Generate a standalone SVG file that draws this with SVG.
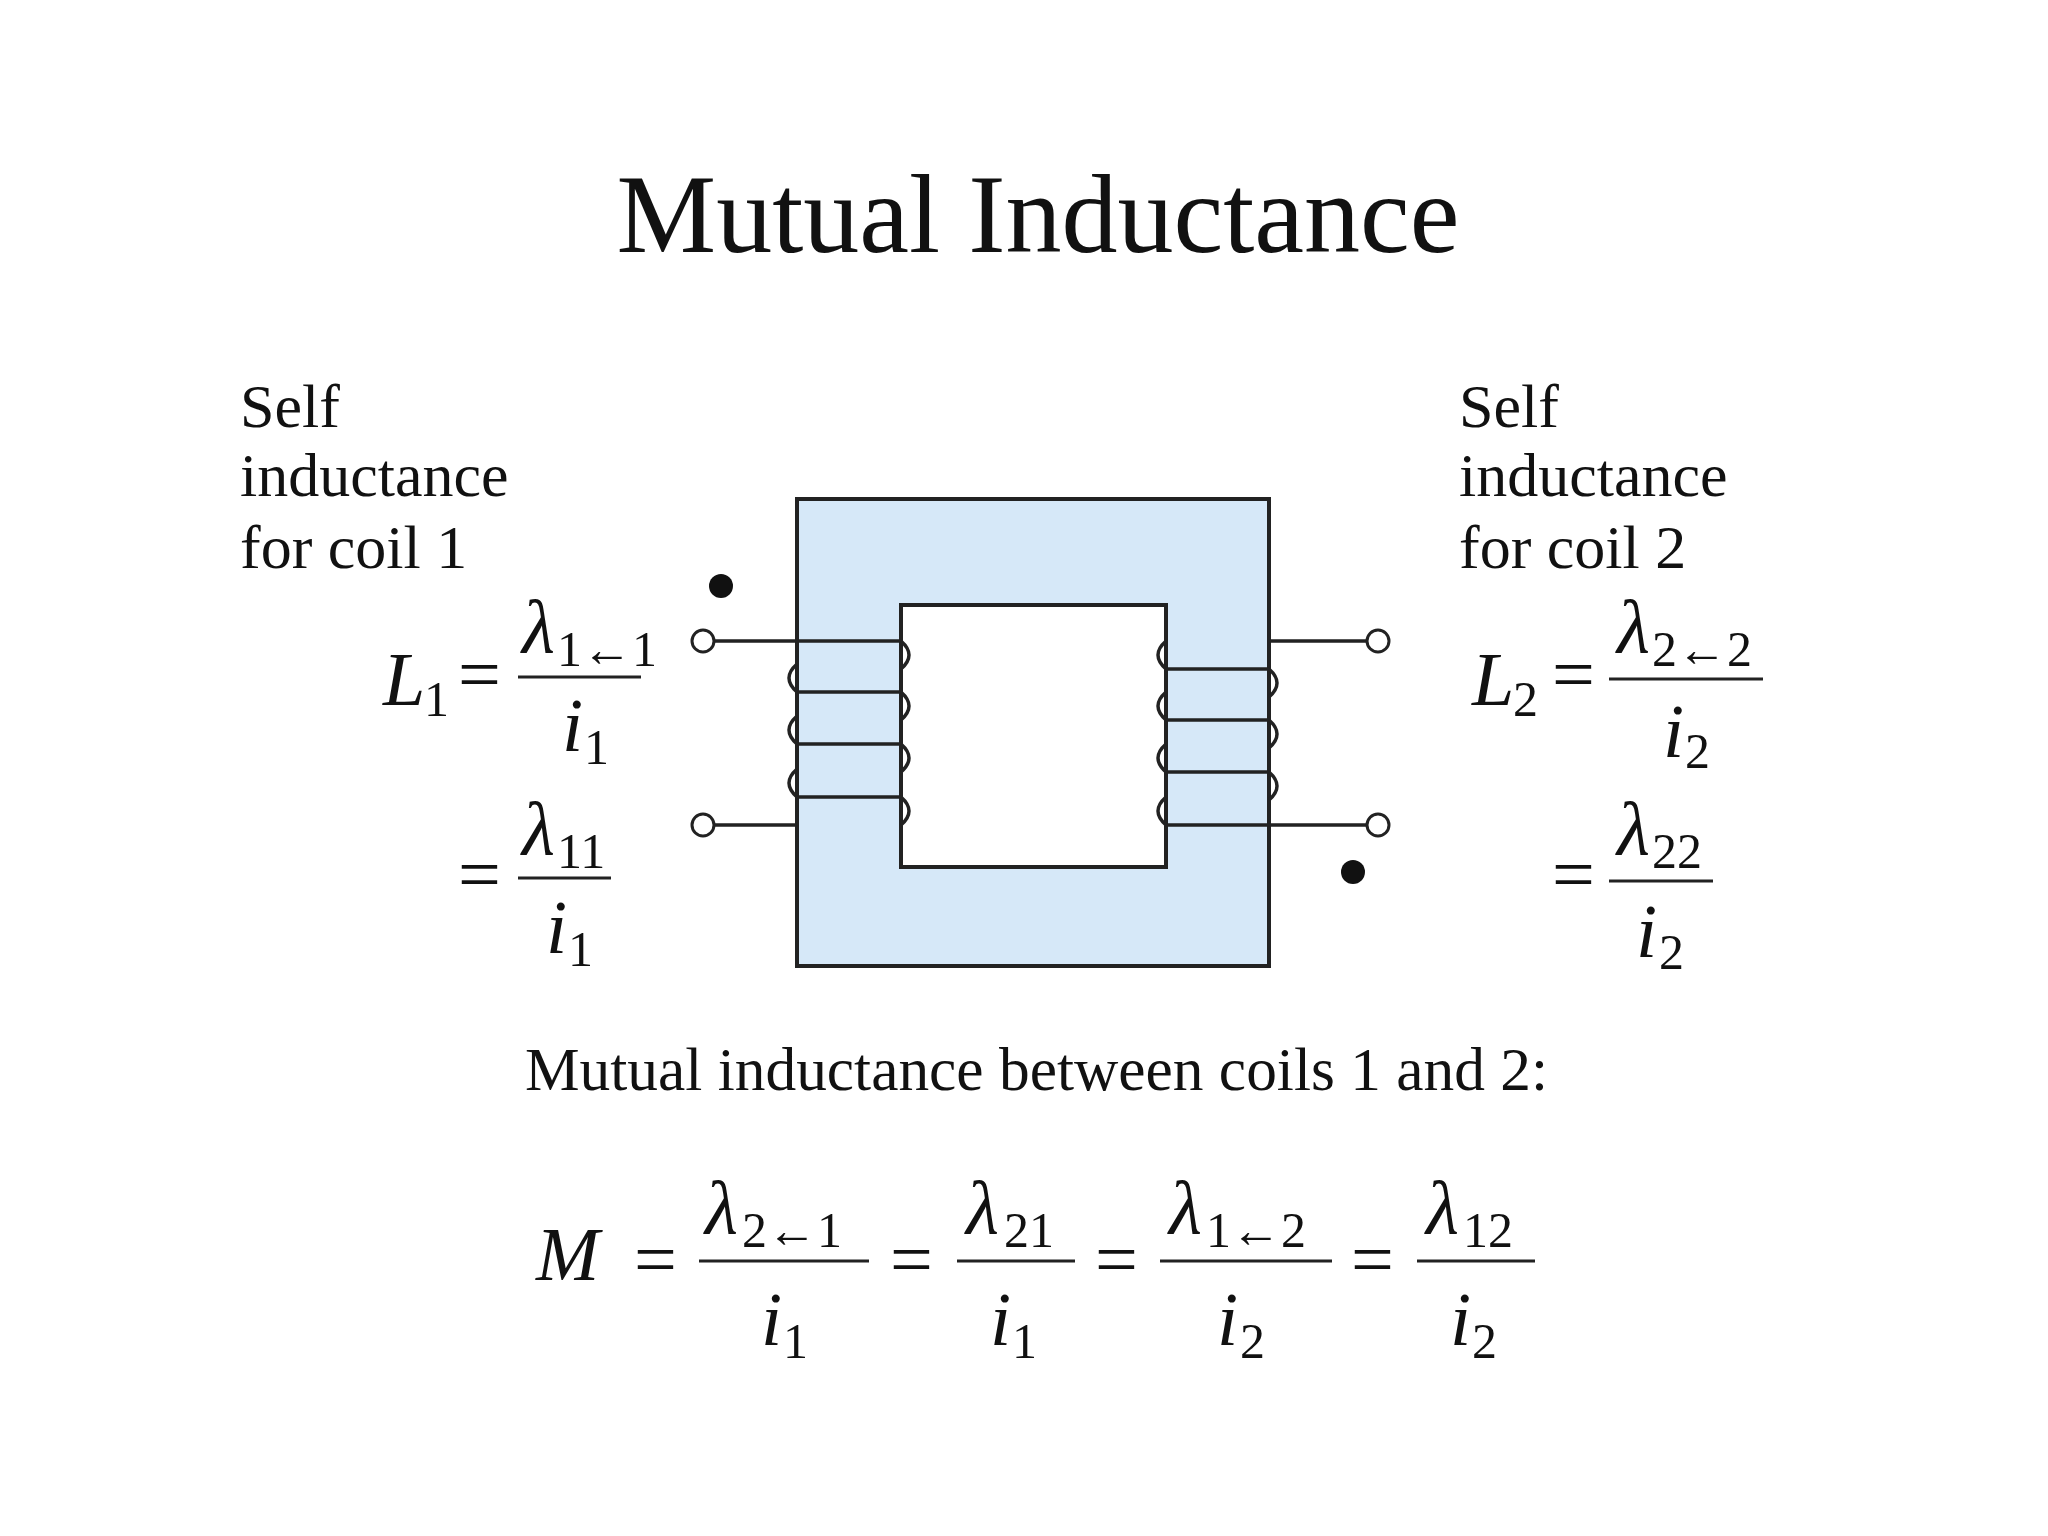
<svg xmlns="http://www.w3.org/2000/svg" width="2048" height="1536" viewBox="0 0 2048 1536">
<style>
text{font-family:"Liberation Serif","DejaVu Serif",serif;fill:#111}
.t{font-size:62px}
.m{font-size:76px;font-style:italic}
.s{font-size:50px}
.e{font-size:76px}
.w{stroke:#222;stroke-width:3.5;fill:none}
.fl{stroke:#222;stroke-width:3}
</style>
<rect width="2048" height="1536" fill="#fff"/>
<text x="1038" y="252" font-size="112" text-anchor="middle">Mutual Inductance</text>
<g id="label-left">
<text class="t" x="240" y="427">Self</text>
<text class="t" x="240" y="496">inductance</text>
<text class="t" x="240" y="568">for coil 1</text>
</g>
<g id="label-right">
<text class="t" x="1459" y="427">Self</text>
<text class="t" x="1459" y="496">inductance</text>
<text class="t" x="1459" y="568">for coil 2</text>
</g>
<g id="core">
<rect x="797" y="499" width="472" height="467" fill="#d6e8f8" stroke="#222" stroke-width="4"/>
<rect x="901" y="605" width="265" height="262" fill="#fff" stroke="#222" stroke-width="4"/>
</g>
<g id="coil1">
<path class="w" d="M714 641H901M797 692H901M797 744H901M797 797H901M714 825H797"/>
<path class="w" d="M901 641q16 14 0 28M901 692q16 14 0 28M901 744q16 14 0 28M901 797q16 14 0 28"/>
<path class="w" d="M797 664q-16 14 0 28M797 716q-16 14 0 28M797 769q-16 14 0 28"/>
<circle cx="703" cy="641" r="11" fill="#fff" stroke="#222" stroke-width="3"/>
<circle cx="703" cy="825" r="11" fill="#fff" stroke="#222" stroke-width="3"/>
<circle cx="721" cy="586" r="12" fill="#111"/>
</g>
<g id="coil2">
<path class="w" d="M1269 641H1367M1166 669H1269M1166 720H1269M1166 772H1269M1166 825H1367"/>
<path class="w" d="M1166 641q-16 14 0 28M1166 692q-16 14 0 28M1166 744q-16 14 0 28M1166 797q-16 14 0 28"/>
<path class="w" d="M1269 669q16 14 0 28M1269 720q16 14 0 28M1269 772q16 14 0 28"/>
<circle cx="1378" cy="641" r="11" fill="#fff" stroke="#222" stroke-width="3"/>
<circle cx="1378" cy="825" r="11" fill="#fff" stroke="#222" stroke-width="3"/>
<circle cx="1353" cy="872" r="12" fill="#111"/>
</g>
<g id="eq-L1">
<text class="m" x="383" y="705">L</text><text class="s" x="424" y="716">1</text>
<text class="e" x="458" y="700">=</text>
<line class="fl" x1="518" y1="677" x2="641" y2="677"/>
<text class="m" x="522" y="653">λ</text><text class="s" x="557" y="666">1←1</text>
<text class="m" x="562" y="751">i</text><text class="s" x="584" y="764">1</text>
<text class="e" x="458" y="900">=</text>
<line class="fl" x1="518" y1="878" x2="611" y2="878"/>
<text class="m" x="522" y="855">λ</text><text class="s" x="557" y="868">11</text>
<text class="m" x="546" y="953">i</text><text class="s" x="568" y="966">1</text>
</g>
<g id="eq-L2">
<text class="m" x="1472" y="705">L</text><text class="s" x="1513" y="716">2</text>
<text class="e" x="1552" y="700">=</text>
<line class="fl" x1="1609" y1="679" x2="1763" y2="679"/>
<text class="m" x="1617" y="653">λ</text><text class="s" x="1652" y="666">2←2</text>
<text class="m" x="1663" y="757">i</text><text class="s" x="1685" y="768">2</text>
<text class="e" x="1552" y="900">=</text>
<line class="fl" x1="1609" y1="881" x2="1713" y2="881"/>
<text class="m" x="1617" y="855">λ</text><text class="s" x="1652" y="868">22</text>
<text class="m" x="1636" y="957">i</text><text class="s" x="1659" y="969">2</text>
</g>
<text class="t" x="525" y="1090" textLength="1023" lengthAdjust="spacingAndGlyphs">Mutual inductance between coils 1 and 2:</text>
<g id="eq-M">
<text class="m" x="536" y="1280">M</text>
<text class="e" x="634" y="1285">=</text>
<line class="fl" x1="699" y1="1261" x2="869" y2="1261"/>
<text class="m" x="705" y="1234">λ</text><text class="s" x="742" y="1247">2←1</text>
<text class="m" x="761" y="1345">i</text><text class="s" x="783" y="1358">1</text>
<text class="e" x="890" y="1285">=</text>
<line class="fl" x1="957" y1="1261" x2="1075" y2="1261"/>
<text class="m" x="966" y="1234">λ</text><text class="s" x="1004" y="1247">21</text>
<text class="m" x="990" y="1345">i</text><text class="s" x="1012" y="1358">1</text>
<text class="e" x="1095" y="1285">=</text>
<line class="fl" x1="1160" y1="1261" x2="1332" y2="1261"/>
<text class="m" x="1169" y="1234">λ</text><text class="s" x="1206" y="1247">1←2</text>
<text class="m" x="1217" y="1345">i</text><text class="s" x="1240" y="1358">2</text>
<text class="e" x="1351" y="1285">=</text>
<line class="fl" x1="1417" y1="1261" x2="1535" y2="1261"/>
<text class="m" x="1426" y="1234">λ</text><text class="s" x="1463" y="1247">12</text>
<text class="m" x="1450" y="1345">i</text><text class="s" x="1472" y="1358">2</text>
</g>
</svg>
